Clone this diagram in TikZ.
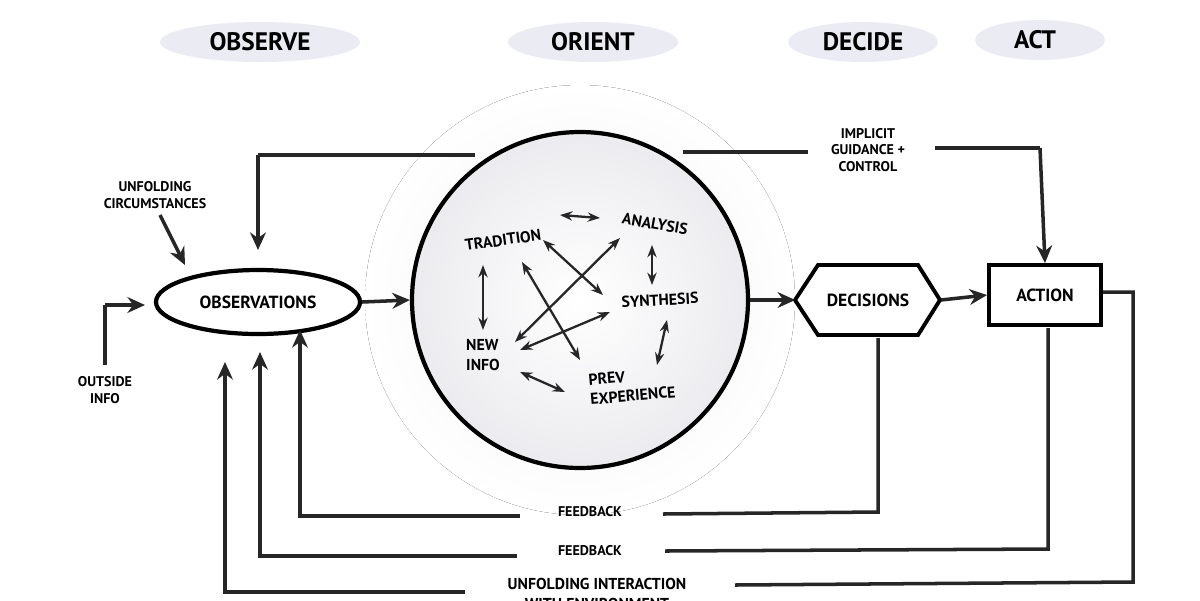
\documentclass[tikz,border=0pt]{standalone}
\usepackage{fontspec}
\setmainfont{PT Sans}
\usetikzlibrary{arrows.meta,shapes.geometric}
\begin{document}
\begin{tikzpicture}[x=0.02cm,y=-0.02cm,
  ln/.style={line width=2pt,black!85},
  ar/.style={ln,-{Stealth[length=10pt,width=9pt]}},
  dar/.style={line width=1.3pt,black!85,{Stealth[length=7pt]}-{Stealth[length=7pt]}},
  hd/.style={font=\bfseries\Large},
  lb/.style={font=\bfseries\footnotesize,align=center},
  inner/.style={font=\bfseries\small}]
\clip (0,0) rectangle (1200,600);
\fill[white] (0,0) rectangle (1200,600);
% header glows
\foreach \x/\y/\w in {260/42/100,593/42/85,863/42/75,1040/40/65}
  \fill[blue!30!gray!20,opacity=0.6] (\x,\y) ellipse ({\w} and 20);
\node[hd] (hO) at (260,42) {OBSERVE};
\node[hd] (hR) at (593,42) {ORIENT};
\node[hd] (hD) at (863,42) {DECIDE};
\node[hd] (hA) at (1035,40) {ACT};
% glow around circle
\fill[inner color=blue!8!gray!12,outer color=white] (580,300) circle (215);
\node[circle,draw,line width=2.4pt,minimum size=336*0.02cm,inner color=white,outer color=blue!10!gray!14] (C) at (580,300) {};
\node[ellipse,draw,line width=2.4pt,minimum width=204*0.02cm,minimum height=64*0.02cm,fill=white,font=\bfseries\normalsize] (obs) at (258,302) {OBSERVATIONS};
\draw[line width=2.2pt,fill=white] (795,300) -- (818,265) -- (918,265) -- (940,300) -- (918,335) -- (818,335) -- cycle;
\node[font=\bfseries\normalsize,minimum width=145*0.02cm,minimum height=70*0.02cm] (dec) at (868,300) {DECISIONS};
\node[draw,line width=2.2pt,minimum width=112*0.02cm,minimum height=60*0.02cm,fill=white,font=\bfseries\normalsize] (act) at (1045,295) {ACTION};
\draw[ar] (obs.east) -- (C.west);
\draw[ar] (C.east) -- (dec.west);
\draw[ar] (dec.east) -- (act.west);
% top loop
\coordinate (t1) at (475,155);
\coordinate (t2) at (683,152);
\draw[ln] (t1) -- (258,155);
\draw[ar] (258,155) -- (258,250);
\node[lb] (ig) at (868,150) {IMPLICIT\\GUIDANCE +\\CONTROL};
\draw[ln] (t2) -- (808,152);
\draw[ln] (935,148) -- (1040,148);
\draw[ar] (1040,148) -- (act.north);
% unfolding circumstances
\node[lb] (uc) at (155,195) {UNFOLDING\\CIRCUMSTANCES};
\draw[ar] (160,215) -- (185,265);
% outside info
\node[lb] (oi) at (105,390) {OUTSIDE\\INFO};
\draw[ln] (105,365) -- (105,305);
\draw[ar] (105,305) -- (145,305);
% feedback loops
\node[lb] (f1) at (590,512) {FEEDBACK};
\draw[ln] (878,338) -- (878,512) -- (663,514);
\draw[ar] (520,516) -- (300,516) -- (300,330);
\node[lb] (f2) at (590,551) {FEEDBACK};
\draw[ln] (1048,328) -- (1048,549) -- (665,551);
\draw[ar] (517,556) -- (260,556) -- (260,352);
\node[lb,font=\bfseries\small] (f3) at (597,594) {UNFOLDING INTERACTION\\WITH ENVIRONMENT};
\draw[ln] (act.east|-0,292) -- (1133,292) -- (1133,582) -- (735,585);
\draw[ar] (465,592) -- (225,592) -- (225,362);
% inside
\node[inner,rotate=8] (tr) at (503,240) {TRADITION};
\node[inner,rotate=-10] (an) at (655,224) {ANALYSIS};
\node[inner,rotate=3] (sy) at (660,300) {SYNTHESIS};
\node[inner,align=left] (ni) at (483,355) {NEW\\INFO};
\node[inner,align=left,rotate=5] (pe) at (632,386) {PREV\\EXPERIENCE};
\draw[dar] (560,215) -- (600,218);
\draw[dar] (483,265) -- (483,330);
\draw[dar] (652,245) -- (652,285);
\draw[dar] (667,320) -- (657,365);
\draw[dar] (520,372) -- (565,392);
\draw[dar] (620,238) -- (515,342);
\draw[dar] (543,240) -- (603,295);
\draw[dar] (522,262) -- (580,360);
\draw[dar] (610,312) -- (520,350);
\end{tikzpicture}
\end{document}
